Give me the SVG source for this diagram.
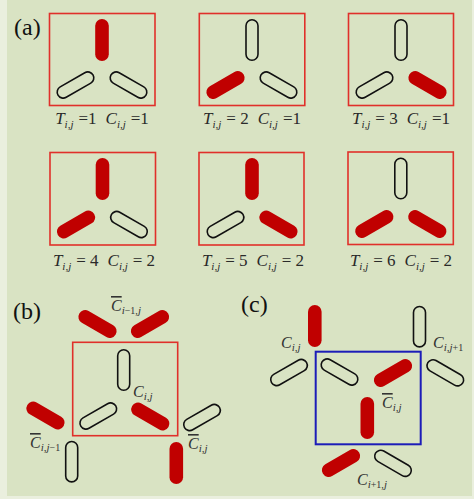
<svg xmlns="http://www.w3.org/2000/svg" xmlns:xlink="http://www.w3.org/1999/xlink" width="474" height="499" viewBox="0 0 474 499">
<style>
.bg{fill:#d9e3c3}
.box{fill:none;stroke:#e0302a;stroke-width:1.6}
.bbox{fill:none;stroke:#1c1cb8;stroke-width:2}
.red{fill:#c00000}
.out{fill:none;stroke:#111;stroke-width:1.6}
.lbl{font-family:"Liberation Serif","Times New Roman",serif;font-size:17px;fill:#2a2a2a}
.it{font-style:italic}
.sub{font-style:italic;font-size:11px}
.pl{font-family:"Liberation Serif","Times New Roman",serif;font-size:24px;fill:#111}
.cl{font-family:"Liberation Serif","Times New Roman",serif;font-size:16px;fill:#333}
.ov{text-decoration:overline}
</style>
<defs>
<rect id="cr" class="red" x="-21" y="-6.8" width="42" height="13.6" rx="6.8"/>
<rect id="co" class="out" x="-20.2" y="-6" width="40.4" height="12" rx="6"/>
</defs>
<rect x="0" y="0" width="474" height="499" fill="#eaefde"/>
<rect class="bg" x="7" y="0" width="465" height="496"/>

<g id="label-a"><text class="pl" x="14" y="35">(a)</text></g>
<g id="label-b"><text class="pl" x="13" y="319">(b)</text></g>
<g id="label-c"><text class="pl" x="241" y="312">(c)</text></g>

<!-- Panel (a), row 1 -->
<g id="a1">
<rect class="box" x="49.5" y="13.5" width="105.5" height="92"/>
<use href="#cr" transform="translate(102,40) rotate(90)"/>
<use href="#co" transform="translate(75.5,85) rotate(-30)"/>
<use href="#co" transform="translate(128.5,85) rotate(30)"/>
<text class="lbl" x="102" y="124" text-anchor="middle"><tspan class="it">T</tspan><tspan class="sub" dy="4">i,j</tspan><tspan dy="-4" dx="5">=1</tspan><tspan class="it" dx="9">C</tspan><tspan class="sub" dy="4">i,j</tspan><tspan dy="-4" dx="5">=1</tspan></text>
</g>
<g id="a2">
<rect class="box" x="199.3" y="13.5" width="105.5" height="92"/>
<use href="#co" transform="translate(252,40) rotate(90)"/>
<use href="#cr" transform="translate(225.5,85) rotate(-30)"/>
<use href="#co" transform="translate(278.5,85) rotate(30)"/>
<text class="lbl" x="252" y="124" text-anchor="middle"><tspan class="it">T</tspan><tspan class="sub" dy="4">i,j</tspan><tspan dy="-4" dx="5">= 2</tspan><tspan class="it" dx="9">C</tspan><tspan class="sub" dy="4">i,j</tspan><tspan dy="-4" dx="5">=1</tspan></text>
</g>
<g id="a3">
<rect class="box" x="348.5" y="13.5" width="105" height="92"/>
<use href="#co" transform="translate(401,40) rotate(90)"/>
<use href="#co" transform="translate(374.5,85) rotate(-30)"/>
<use href="#cr" transform="translate(427.5,85) rotate(30)"/>
<text class="lbl" x="401" y="124" text-anchor="middle"><tspan class="it">T</tspan><tspan class="sub" dy="4">i,j</tspan><tspan dy="-4" dx="5">= 3</tspan><tspan class="it" dx="9">C</tspan><tspan class="sub" dy="4">i,j</tspan><tspan dy="-4" dx="5">=1</tspan></text>
</g>

<!-- Panel (a), row 2 -->
<g id="a4">
<rect class="box" x="50" y="152.5" width="105.5" height="92.5"/>
<use href="#cr" transform="translate(102.5,179) rotate(90)"/>
<use href="#cr" transform="translate(76,224.5) rotate(-30)"/>
<use href="#co" transform="translate(129,224.5) rotate(30)"/>
<text class="lbl" x="104" y="266" text-anchor="middle"><tspan class="it">T</tspan><tspan class="sub" dy="4">i,j</tspan><tspan dy="-4" dx="5">= 4</tspan><tspan class="it" dx="9">C</tspan><tspan class="sub" dy="4">i,j</tspan><tspan dy="-4" dx="5">= 2</tspan></text>
</g>
<g id="a5">
<rect class="box" x="199" y="152.5" width="105" height="92.5"/>
<use href="#cr" transform="translate(252,179) rotate(90)"/>
<use href="#co" transform="translate(225.5,224.5) rotate(-30)"/>
<use href="#cr" transform="translate(278.5,224.5) rotate(30)"/>
<text class="lbl" x="253" y="266" text-anchor="middle"><tspan class="it">T</tspan><tspan class="sub" dy="4">i,j</tspan><tspan dy="-4" dx="5">= 5</tspan><tspan class="it" dx="9">C</tspan><tspan class="sub" dy="4">i,j</tspan><tspan dy="-4" dx="5">= 2</tspan></text>
</g>
<g id="a6">
<rect class="box" x="348" y="152" width="105.3" height="92.5"/>
<use href="#co" transform="translate(400.8,178.5) rotate(90)"/>
<use href="#cr" transform="translate(374.3,224) rotate(-30)"/>
<use href="#cr" transform="translate(427.3,224) rotate(30)"/>
<text class="lbl" x="401" y="266" text-anchor="middle"><tspan class="it">T</tspan><tspan class="sub" dy="4">i,j</tspan><tspan dy="-4" dx="5">= 6</tspan><tspan class="it" dx="9">C</tspan><tspan class="sub" dy="4">i,j</tspan><tspan dy="-4" dx="5">= 2</tspan></text>
</g>

<!-- Panel (b) -->
<g id="b-box"><rect class="box" x="72.7" y="342.3" width="105" height="93.4"/></g>
<g id="b-top-left"><use href="#cr" transform="translate(97.5,324) rotate(30)"/></g>
<g id="b-top-right"><use href="#cr" transform="translate(150,324) rotate(-30)"/></g>
<g id="b-center-up"><use href="#co" transform="translate(123.7,370) rotate(90)"/></g>
<g id="b-center-left"><use href="#co" transform="translate(98.3,416) rotate(-30)"/></g>
<g id="b-center-right"><use href="#cr" transform="translate(150.3,416.5) rotate(30)"/></g>
<g id="b-left"><use href="#cr" transform="translate(45.5,415.5) rotate(30)"/></g>
<g id="b-left-down"><use href="#co" transform="translate(71.7,461.7) rotate(90)"/></g>
<g id="b-right"><use href="#co" transform="translate(202,417.5) rotate(-30)"/></g>
<g id="b-right-down"><use href="#cr" transform="translate(176.3,463) rotate(90)"/></g>
<g id="b-labels">
<text class="cl" x="111" y="311"><tspan class="it ov">C</tspan><tspan class="sub" font-size="10" dy="3">i</tspan><tspan font-size="10" dy="0">−1,</tspan><tspan class="sub" font-size="10">j</tspan></text>
<text class="cl" x="133" y="397"><tspan class="it">C</tspan><tspan class="sub" font-size="10" dy="3">i,j</tspan></text>
<text class="cl" x="30" y="448"><tspan class="it ov">C</tspan><tspan class="sub" font-size="10" dy="3">i,j</tspan><tspan font-size="10">−1</tspan></text>
<text class="cl" x="188" y="449"><tspan class="it ov">C</tspan><tspan class="sub" font-size="10" dy="3">i,j</tspan></text>
</g>

<!-- Panel (c) -->
<g id="c-box"><rect class="bbox" x="315.7" y="351.7" width="105" height="92.6"/></g>
<g id="c-left-up"><use href="#cr" transform="translate(314.8,326) rotate(90)"/></g>
<g id="c-left"><use href="#co" transform="translate(289,372.5) rotate(-30)"/></g>
<g id="c-center-left"><use href="#co" transform="translate(339.5,372) rotate(30)"/></g>
<g id="c-center-right"><use href="#cr" transform="translate(393,373) rotate(-30)"/></g>
<g id="c-center-down"><use href="#cr" transform="translate(367.3,418) rotate(90)"/></g>
<g id="c-right-up"><use href="#co" transform="translate(419.5,326.7) rotate(90)"/></g>
<g id="c-right"><use href="#co" transform="translate(445.3,372.8) rotate(30)"/></g>
<g id="c-bottom-left"><use href="#cr" transform="translate(341,463) rotate(-30)"/></g>
<g id="c-bottom-right"><use href="#co" transform="translate(393,463.3) rotate(30)"/></g>
<g id="c-labels">
<text class="cl" x="281" y="348"><tspan class="it">C</tspan><tspan class="sub" font-size="10" dy="3">i,j</tspan></text>
<text class="cl" x="433" y="348"><tspan class="it">C</tspan><tspan class="sub" font-size="10" dy="3">i,j</tspan><tspan font-size="10">+1</tspan></text>
<text class="cl" x="382" y="408"><tspan class="it ov">C</tspan><tspan class="sub" font-size="10" dy="3">i,j</tspan></text>
<text class="cl" x="357" y="485"><tspan class="it">C</tspan><tspan class="sub" font-size="10" dy="3">i</tspan><tspan font-size="10">+1,</tspan><tspan class="sub" font-size="10">j</tspan></text>
</g>
</svg>
